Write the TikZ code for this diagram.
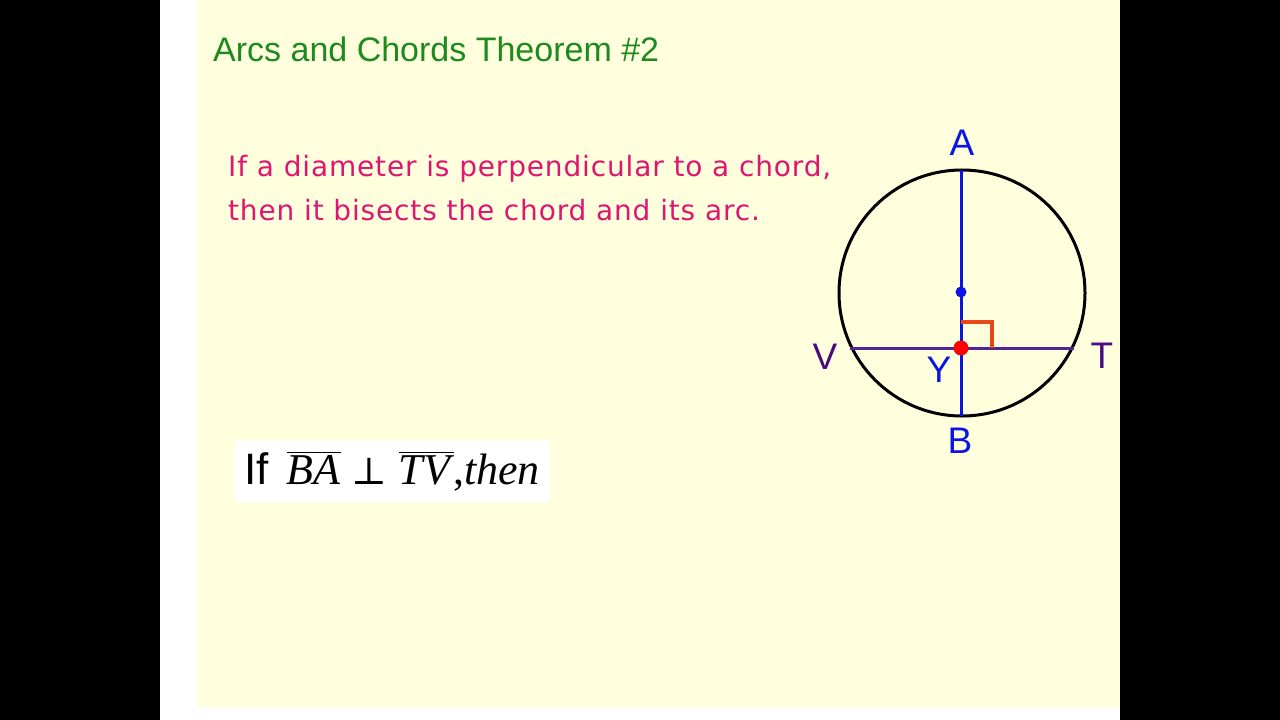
\documentclass[tikz,border=0pt]{standalone}
\usepackage{amsmath}
\usepackage{fontspec}
\setmainfont{Liberation Serif}
\setsansfont{Liberation Sans}
\newfontfamily\handfont[LetterSpace=3]{DejaVu Sans}
\newfontfamily\perpfont{DejaVu Serif}
\usepackage{tikz}
\usetikzlibrary{positioning,calc}
\definecolor{cream}{RGB}{255,255,222}
\definecolor{titlegreen}{RGB}{28,138,28}
\definecolor{rulepink}{RGB}{222,22,112}
\definecolor{diamblue}{RGB}{12,20,228}
\definecolor{chordpurple}{RGB}{82,36,148}
\definecolor{labelpurple}{RGB}{76,10,130}
\definecolor{markred}{RGB}{232,72,22}
\newcommand{\segbar}[1]{$\overline{\hbox{\textit{#1}}}$}
\tikzset{
  ptlabel/.style={font=\sffamily\fontsize{37}{37}\selectfont, inner sep=0pt},
  rulefont/.style={font=\handfont\fontsize{28}{30}\selectfont, text=rulepink, anchor=base west, inner sep=0pt}
}
\begin{document}
\begin{tikzpicture}[x=1pt,y=-1pt]
		\useasboundingbox (0,0) rectangle (1280,720);
		\fill [black] (0,0) rectangle (1280,720);
		\fill [white] (160,0) rectangle (1120,720);
		\fill [cream] (197,0) rectangle (1120,707);
		% title and statement
		\node [anchor=base west, inner sep=0pt, text=titlegreen, font=\sffamily\fontsize{34}{34}\selectfont] (title) at (213,61) {Arcs and Chords Theorem \#2};
		\node [rulefont] (line1) at (228,176) {If a diameter is perpendicular to a chord,};
		\node [rulefont] (line2) at (228,220) {then it bisects the chord and its arc.};
		\node [fill=white, minimum width=315pt, minimum height=62pt, inner sep=0pt, font=\fontsize{44}{44}\selectfont] (given) at (392,471) {{\sffamily If}\, \segbar{BA} {\perpfont\fontsize{38}{38}\selectfont ⊥} \segbar{TV}\kern-1pt,\textit{then}};
		% circle
		\coordinate (O) at (962,293);
		\coordinate (A) at (961,170);
		\coordinate (B) at (961,416);
		\coordinate (V) at (850,348);
		\coordinate (T) at (1074,348);
		\coordinate (Y) at (961,348);
		\draw [line width = 3pt] (O) circle (123);
		\draw [line width = 3pt, chordpurple] (V) -- (T);
		\draw [line width = 3pt, diamblue] (A) -- (B);
		\draw [line width = 4pt, markred] (961,322) -- (992,322) -- (992,348);
		\fill [diamblue] (961,292) circle (5.5);
		\fill [red] (Y) circle (7.5);
		\node [ptlabel, text=diamblue] (lA) at (962,143) {A};
		\node [ptlabel, text=diamblue] (lB) at (960,441) {B};
		\node [ptlabel, text=labelpurple] (lV) at (825,357) {V};
		\node [ptlabel, text=labelpurple] (lT) at (1102,356) {T};
		\node [ptlabel, text=diamblue] (lY) at (939,370) {Y};
		\end{tikzpicture}
\end{document}
